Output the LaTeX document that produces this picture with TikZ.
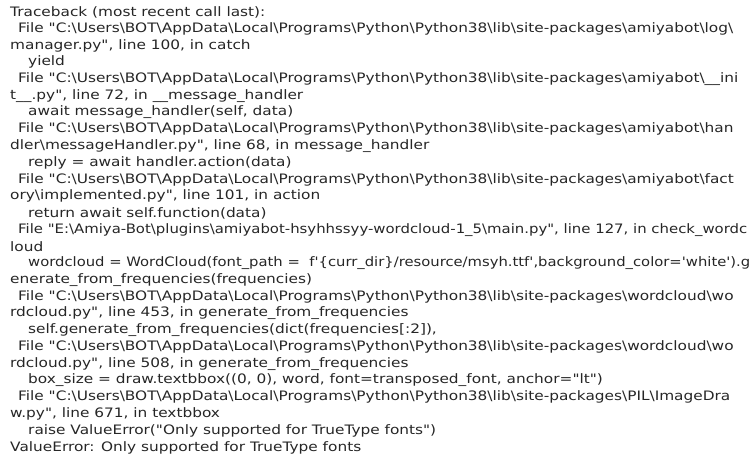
\documentclass[tikz,border=0pt]{standalone}
\usepackage{fontspec}
\usepackage{graphicx}
\newfontfamily\tb[FakeStretch=1.18]{DejaVu Sans}
\def\bs{\textbackslash}
\def\P{C:\bs Users\bs BOT\bs AppData\bs Local\bs Programs\bs Python\bs Python38\bs lib\bs site-packages\bs }
\tikzset{ln/.style={anchor=west,inner sep=0pt,font=\tb\fontsize{13}{14}\selectfont,text=black!85}}
\begin{document}
\begin{tikzpicture}[x=1pt,y=1pt]
\useasboundingbox[fill=white] (0,0) rectangle (756,464);
\def\Y#1{464-12-16.75*(#1-1)}
\node[ln] (l1) at (10,{\Y{1}}) {Traceback (most recent call last):};
\node[ln] (l2) at (18,{\Y{2}}) {File "\P amiyabot\bs log\bs};
\node[ln] (l3) at (10,{\Y{3}}) {manager.py", line 100, in catch};
\node[ln] (l4) at (28,{\Y{4}}) {yield};
\node[ln] (l5) at (18,{\Y{5}}) {File "\P amiyabot\bs \_\_ini};
\node[ln] (l6) at (10,{\Y{6}}) {t\_\_.py", line 72, in \_\_message\_handler};
\node[ln] (l7) at (28,{\Y{7}}) {await message\_handler(self, data)};
\node[ln] (l8) at (18,{\Y{8}}) {File "\P amiyabot\bs han};
\node[ln] (l9) at (10,{\Y{9}}) {dler\bs messageHandler.py", line 68, in message\_handler};
\node[ln] (l10) at (28,{\Y{10}}) {reply = await handler.action(data)};
\node[ln] (l11) at (18,{\Y{11}}) {File "\P amiyabot\bs fact};
\node[ln] (l12) at (10,{\Y{12}}) {ory\bs implemented.py", line 101, in action};
\node[ln] (l13) at (28,{\Y{13}}) {return await self.function(data)};
\node[ln] (l14) at (18,{\Y{14}}) {\resizebox{729pt}{\height}{File "E:\bs Amiya-Bot\bs plugins\bs amiyabot-hsyhhssyy-wordcloud-1\_5\bs main.py", line 127, in check\_wordc}};
\node[ln] (l15) at (10,{\Y{15}}) {loud};
\node[ln] (l16) at (28,{\Y{16}}) {\resizebox{722pt}{\height}{wordcloud = WordCloud(font\_path =\ \ f'\{curr\_dir\}/resource/msyh.ttf',background\_color='white').g}};
\node[ln] (l17) at (10,{\Y{17}}) {enerate\_from\_frequencies(frequencies)};
\node[ln] (l18) at (18,{\Y{18}}) {File "\P wordcloud\bs wo};
\node[ln] (l19) at (10,{\Y{19}}) {rdcloud.py", line 453, in generate\_from\_frequencies};
\node[ln] (l20) at (28,{\Y{20}}) {self.generate\_from\_frequencies(dict(frequencies[:2]),};
\node[ln] (l21) at (18,{\Y{21}}) {File "\P wordcloud\bs wo};
\node[ln] (l22) at (10,{\Y{22}}) {rdcloud.py", line 508, in generate\_from\_frequencies};
\node[ln] (l23) at (28,{\Y{23}}) {box\_size = draw.textbbox((0, 0), word, font=transposed\_font, anchor="lt")};
\node[ln] (l24) at (18,{\Y{24}}) {File "\P PIL\bs ImageDra};
\node[ln] (l25) at (10,{\Y{25}}) {w.py", line 671, in textbbox};
\node[ln] (l26) at (28,{\Y{26}}) {raise ValueError("Only supported for TrueType fonts")};
\node[ln] (l27) at (10,{\Y{27}}) {ValueError: Only supported for TrueType fonts};
\end{tikzpicture}
\end{document}
